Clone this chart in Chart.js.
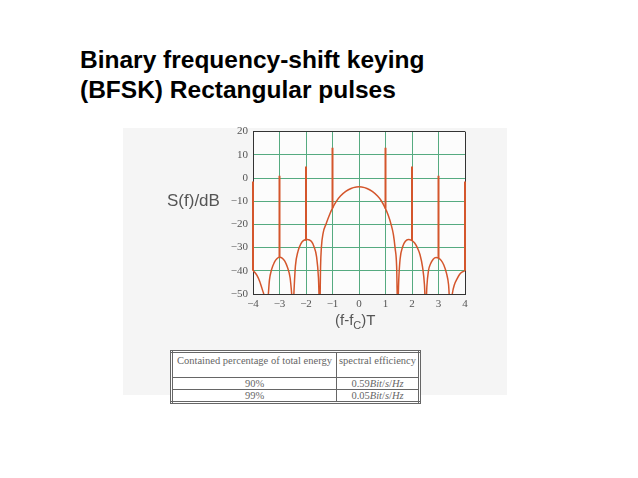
<!DOCTYPE html>
<html>
<head>
<meta charset="utf-8">
<script src="https://cdn.jsdelivr.net/npm/chart.js@4"></script>
<style>
  body { margin: 0; width: 638px; height: 478px; background: #fff; position: relative; overflow: hidden; }
  .title { position: absolute; left: 80px; top: 45px; font: bold 24.5px "Liberation Sans", Arial, sans-serif; line-height: 30px; color: #000; }
  .panel { position: absolute; left: 123px; top: 128px; width: 384px; height: 267px; background: #f5f5f5; }
  .box { position: absolute; left: 200px; top: 120px; width: 280px; height: 205px; }
  .ylab { position: absolute; left: 167px; top: 191px; font: 17px "Liberation Sans", Arial, sans-serif; color: #555; }
  .xlab { position: absolute; left: 335px; top: 311px; font: 15px "Liberation Sans", Arial, sans-serif; color: #555; }
  .xlab sub { font-size: 11px; vertical-align: -4px; }
  table { position: absolute; left: 170px; top: 350px; width: 251px; border-collapse: collapse; border: 3px double #666;
          font: 10.5px "Liberation Serif", "Times New Roman", serif; color: #666; background: #fff; }
  td { border: 1px solid #666; text-align: center; padding: 0; line-height: 11px; }
  tr.head td { height: 22px; vertical-align: top; padding-top: 2px; }
  tr.row td { height: 11px; }
  td.c1 { width: 163px; }
  i { font-style: italic; }
</style>
</head>
<body>
<div class="title">Binary frequency-shift keying<br>(BFSK) Rectangular pulses</div>
<div class="panel"></div>
<div class="box"><canvas id="chart"></canvas></div>
<div class="ylab">S(f)/dB</div>
<div class="xlab">(f-f<sub>C</sub>)T</div>
<table id="tbl"></table>
<script>
// spectrum curve, (f-fc)T vs dB
const freq = [-4, -3.92, -3.85, -3.75, -3.65, -3.55, -3.47, -3.42, -3.38, -3.3, -3.2, -3.1, -3.0, -2.9, -2.8, -2.7, -2.6, -2.54,
  -2.49, -2.45, -2.4, -2.3, -2.2, -2.1, -1.95, -1.8, -1.7, -1.6, -1.53, -1.48, -1.45, -1.42, -1.35, -1.25, -1.1, -1.0, -0.85,
  -0.7, -0.5, -0.3, -0.1, 0, 0.1, 0.3, 0.5, 0.7, 0.84, 1.0, 1.1, 1.21, 1.3, 1.36, 1.42, 1.46, 1.5, 1.55, 1.65, 1.75, 1.86,
  2.0, 2.1, 2.2, 2.3, 2.4, 2.47, 2.52, 2.56, 2.62, 2.7, 2.8, 2.91, 3.0, 3.1, 3.2, 3.3, 3.38, 3.45, 3.52, 3.6, 3.7, 3.8, 3.9, 4];
const level = [-40, -40.8, -42, -44.5, -48, -52, -58, -50, -44, -39.5, -36.5, -34.8, -34.2, -34.5, -35.8, -38.5, -43, -50,
  -58, -48, -38, -31.5, -28.5, -27, -26.5, -27.3, -29.5, -34, -43, -58, -38, -30, -23.5, -20, -15.5, -13, -10,
  -7.8, -5.8, -4.5, -3.9, -3.8, -3.9, -4.5, -5.8, -7.8, -9.8, -13.2, -16, -20, -24.5, -30, -38, -58, -44, -35, -29.5, -27.3, -26.5,
  -27, -28, -30, -33, -38.5, -46, -58, -47, -40, -37, -35, -34.3, -34.5, -35.5, -37.5, -41, -46, -58, -50, -46, -43.5, -41.5, -40.5, -40];

// discrete spectral lines
const spikeFreq = [-4, -3, -2, -1, 1, 2, 3, 4];
const spikeBase = [-40, -34.2, -27, -13, -13.2, -27, -34.5, -40];
const spikeTop = [-1.5, 1, 5, 13, 13, 5, 1, -1.5];

const yTicks = [20, 10, 0, -10, -20, -30, -40, -50];

const energyPct = ["90%", "99%"];
const efficiency = ["0.59", "0.05"];

const curveColor = "#d4562c";
const gridColor = "#55aa80";

const curvePts = freq.map((f, i) => ({ x: f, y: level[i] }));
const spikePts = [];
spikeFreq.forEach((f, i) => {
  spikePts.push({ x: f, y: spikeBase[i] }, { x: f, y: spikeTop[i] }, { x: f, y: null });
});

const plotBg = {
  id: "plotBg",
  beforeDraw(chart) {
    const { ctx, chartArea: a } = chart;
    ctx.save();
    ctx.fillStyle = "#fcfcfc";
    ctx.fillRect(a.left, a.top, a.right - a.left, a.bottom - a.top);
    ctx.restore();
  },
};

const minus = (v) => (v < 0 ? "\u2212" + Math.abs(v) : String(v));

new Chart(document.getElementById("chart"), {
  type: "line",
  data: {
    datasets: [
      { data: spikePts, borderColor: curveColor, borderWidth: 2, pointRadius: 0, tension: 0, spanGaps: false, clip: 3 },
      { data: curvePts, borderColor: curveColor, borderWidth: 1.5, pointRadius: 0, cubicInterpolationMode: "monotone" },
    ],
  },
  options: {
    responsive: true,
    maintainAspectRatio: false,
    animation: false,
    layout: { padding: { left: 0, top: 10, right: 15, bottom: 0 } },
    plugins: { legend: { display: false }, tooltip: { enabled: false } },
    scales: {
      x: {
        type: "linear",
        min: -4,
        max: 4,
        ticks: { stepSize: 1, padding: 4, color: "#555", font: { family: "Liberation Serif", size: 11 }, callback: minus },
        grid: { drawTicks: false, color: (c) => (Math.abs(c.tick.value) === 4 ? "#333" : gridColor) },
        border: { color: "#333" },
        afterFit: (s) => { s.height = 31; },
      },
      y: {
        min: -50,
        max: 20,
        afterBuildTicks: (s) => { s.ticks = yTicks.map((v) => ({ value: v })); },
        ticks: { padding: 5, color: "#555", font: { family: "Liberation Serif", size: 11 }, callback: minus },
        grid: { drawTicks: false, color: (c) => (c.tick.value === 20 ? "#333" : gridColor) },
        border: { color: "#333" },
        afterFit: (s) => { s.width = 53; },
      },
    },
  },
  plugins: [plotBg],
});

// table below the chart
const tbl = document.getElementById("tbl");
let html = '<tr class="head"><td class="c1">Contained percentage of total energy</td><td>spectral efficiency</td></tr>';
energyPct.forEach((p, i) => {
  html += '<tr class="row"><td>' + p + "</td><td>" + efficiency[i] + "<i>Bit</i>/<i>s</i>/<i>Hz</i></td></tr>";
});
tbl.innerHTML = html;
</script>
</body>
</html>
